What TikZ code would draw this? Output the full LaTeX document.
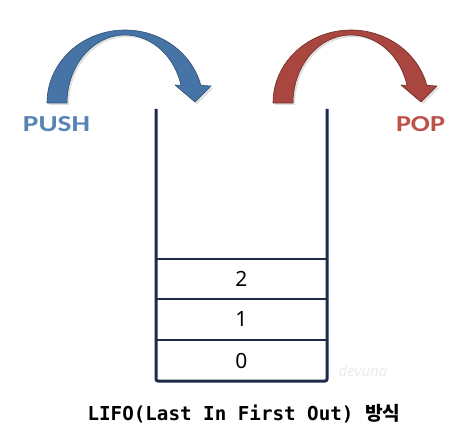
\documentclass[tikz,border=0pt]{standalone}
\usepackage{fontspec}
\usetikzlibrary{shadows,calc}
\newfontfamily\lblfont{Carlito}
\newfontfamily\numfont{Noto Sans}
\newfontfamily\monofont{DejaVu Sans Mono}
\newfontfamily\krfont{Noto Sans CJK KR}
\definecolor{stackcol}{HTML}{1E2A48}
\definecolor{bluefill}{HTML}{4674A6}
\definecolor{blueedge}{HTML}{2C4E75}
\definecolor{bluetext}{HTML}{5584B5}
\definecolor{redfill}{HTML}{A8463F}
\definecolor{rededge}{HTML}{6E2A26}
\definecolor{redtext}{HTML}{BE504A}
\tikzset{
  ribbon/.style={line width=0.6pt, line join=round,
    drop shadow={opacity=0.25, shadow xshift=2pt, shadow yshift=-2pt}},
  wall/.style={draw=stackcol, line width=3pt, rounded corners=2pt},
  divider/.style={draw=stackcol, line width=2pt},
  num/.style={font=\numfont\fontsize{21}{21}\selectfont, text=black, inner sep=0pt},
}
\begin{document}
\begin{tikzpicture}[x=1pt,y=1pt]
\useasboundingbox[fill=white] (0,0) rectangle (474,445);

% PUSH arrow
\filldraw[ribbon, fill=bluefill, draw=blueedge]
  (47,342) arc[start angle=180, end angle=14, x radius=78, y radius=73]
  -- (211,359) -- (195,343) -- (175,360)
  -- ([shift={(125,342)}]15:58 and 68)
  arc[start angle=15, end angle=180, x radius=58, y radius=68] -- cycle;

% POP arrow
\filldraw[ribbon, fill=redfill, draw=rededge]
  (273,342) arc[start angle=180, end angle=14, x radius=78, y radius=73]
  -- (437,359) -- (421,343) -- (401,360)
  -- ([shift={(351,342)}]15:58 and 68)
  arc[start angle=15, end angle=180, x radius=58, y radius=68] -- cycle;

\node[inner sep=0pt, text=bluetext] (push) at (56.5,320.5)
  {\resizebox{67pt}{15pt}{\lblfont\bfseries PUSH}};
\node[inner sep=0pt, text=redtext] (pop) at (420.5,320.5)
  {\resizebox{49pt}{15pt}{\lblfont\bfseries POP}};

% stack container
\coordinate (tl) at (156,336);
\coordinate (bl) at (156,64);
\coordinate (br) at (327,64);
\coordinate (tr) at (327,336);
\draw[wall] (tl) -- (bl) -- (br) -- (tr);

\coordinate (d1l) at (156,186); \coordinate (d1r) at (327,186);
\coordinate (d2l) at (156,146); \coordinate (d2r) at (327,146);
\coordinate (d3l) at (156,105); \coordinate (d3r) at (327,105);
\draw[divider] (d1l) -- (d1r);
\draw[divider] (d2l) -- (d2r);
\draw[divider] (d3l) -- (d3r);

\node[num] (n2) at (241.5,166) {2};
\node[num] (n1) at (241.5,125.5) {1};
\node[num] (n0) at (241.5,84.5) {0};

\node[inner sep=0pt, text=black!8, font=\numfont\itshape\fontsize{15}{15}\selectfont] (wm) at (363,74) {devuna};

\node[inner sep=0pt, text=black] (caption) at (244,31.5)
  {\monofont\bfseries\fontsize{19.2}{19.2}\selectfont LIFO(Last In First Out) {\krfont\bfseries 방식}};
\end{tikzpicture}
\end{document}
